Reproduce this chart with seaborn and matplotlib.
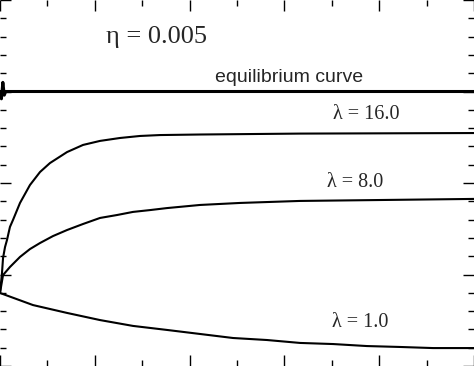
import numpy as np
import pandas as pd
import matplotlib
matplotlib.use("Agg")
import matplotlib.pyplot as plt
from matplotlib.ticker import MultipleLocator
import seaborn as sns

# values (arbitrary units, axis labels were cropped)
t_eq = [0.0, 0.015, 0.03, 0.045, 0.06, 5.0]
y_eq = [1.50, 1.46, 1.55, 1.48, 1.50, 1.50]

t_16 = [0.0, 0.021, 0.032, 0.053, 0.074, 0.105, 0.137, 0.211, 0.316, 0.422, 0.527,
        0.707, 0.876, 1.055, 1.266, 1.477, 1.688, 2.110, 3.165, 5.0]
y_16 = [0.399, 0.508, 0.590, 0.650, 0.689, 0.760, 0.798, 0.891, 0.989, 1.060, 1.109,
        1.169, 1.208, 1.230, 1.246, 1.257, 1.262, 1.265, 1.270, 1.273]

t_8 = [0.0, 0.032, 0.105, 0.211, 0.316, 0.422, 0.559, 0.707, 0.876, 1.055, 1.234,
       1.403, 1.582, 1.762, 2.110, 2.532, 3.165, 4.008, 5.0]
y_8 = [0.399, 0.497, 0.541, 0.596, 0.639, 0.672, 0.710, 0.743, 0.776, 0.809, 0.825,
       0.842, 0.852, 0.863, 0.880, 0.891, 0.902, 0.907, 0.913]

t_1 = [0.0, 0.032, 0.348, 0.707, 1.055, 1.403, 1.762, 2.110, 2.458, 2.816, 3.165,
       3.513, 3.871, 4.219, 4.568, 5.0]
y_1 = [0.399, 0.393, 0.333, 0.290, 0.251, 0.219, 0.197, 0.175, 0.153, 0.142, 0.126,
       0.120, 0.109, 0.104, 0.098, 0.098]

sns.set_style("ticks")
plt.rcParams["font.family"] = ["Liberation Serif", "DejaVu Serif"]
serif = ["Liberation Serif", "DejaVu Serif"]

fig = plt.figure(figsize=(4.74, 3.66), dpi=100)
ax = fig.add_axes([0, 0, 1, 1])

sns.lineplot(x=t_eq, y=y_eq, color="black", linewidth=2.2, ax=ax, sort=False)
sns.lineplot(x=t_16, y=y_16, color="black", linewidth=1.5, ax=ax)
sns.lineplot(x=t_8, y=y_8, color="black", linewidth=1.5, ax=ax)
sns.lineplot(x=t_1, y=y_1, color="black", linewidth=1.5, ax=ax)

ax.set_xlim(0, 5)
ax.set_ylim(0, 2)
ax.xaxis.set_major_locator(MultipleLocator(1))
ax.xaxis.set_minor_locator(MultipleLocator(0.5))
ax.yaxis.set_major_locator(MultipleLocator(0.5))
ax.yaxis.set_minor_locator(MultipleLocator(0.1))
ax.tick_params(which="both", direction="in", top=True, right=True,
               labelbottom=False, labelleft=False, width=1.0, color="black")
ax.tick_params(which="major", length=8)
ax.tick_params(which="minor", length=4.3)
for s in ax.spines.values():
    s.set_visible(False)

ax.text(1.646, 1.798, "η = 0.005", fontsize=19, ha="center", va="center", family=serif)
ax.text(3.05, 1.579, "equilibrium curve", fontsize=14, ha="center", va="center",
        family=["Liberation Sans", "DejaVu Sans"])
ax.text(3.86, 1.372, "λ = 16.0", fontsize=14.5, ha="center", va="center", family=serif)
ax.text(3.75, 1.005, "λ = 8.0", fontsize=14.5, ha="center", va="center", family=serif)
ax.text(3.80, 0.236, "λ = 1.0", fontsize=14.5, ha="center", va="center", family=serif)

fig.savefig("out.png", dpi=100)
